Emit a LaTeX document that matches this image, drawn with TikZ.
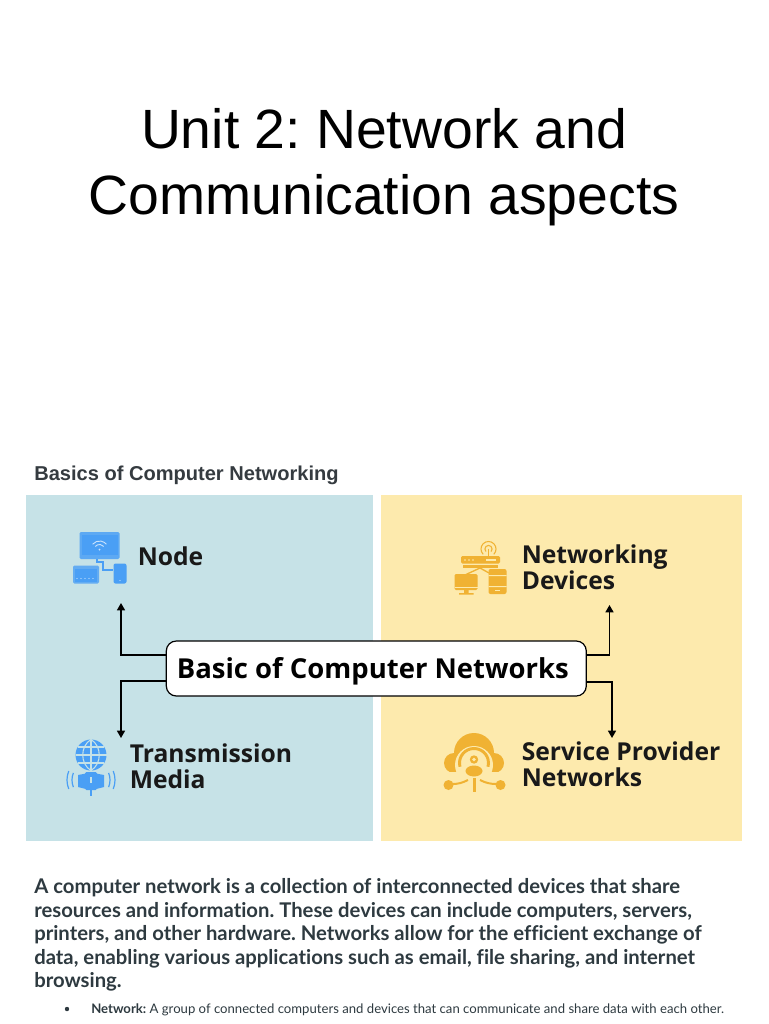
\documentclass[tikz,border=0pt]{standalone}
\usepackage{fontspec}
\setmainfont{Liberation Sans}
\newfontfamily\diagfont{Open Sans}
\newfontfamily\bodyfont[Ligatures=NoCommon]{Lato}
\usetikzlibrary{arrows.meta}
\definecolor{panelblue}{HTML}{C6E2E7}
\definecolor{panelyellow}{HTML}{FDEAAD}
\definecolor{iconblue}{HTML}{4A9FF5}
\definecolor{iconorange}{HTML}{F0B233}
\definecolor{bodyink}{HTML}{2E3A40}
\definecolor{headink}{HTML}{353B40}
\newcommand{\pxfont}[2]{\fontsize{#1}{#2}\selectfont}
\frenchspacing
\tikzset{
  x=0.75pt,y=-0.75pt,
  titletext/.style={anchor=base,inner sep=0pt,font=\pxfont{41.5}{50}},
  labeltext/.style={anchor=base west,inner sep=0pt,align=left,text=black!90,font=\diagfont\bfseries\pxfont{18.5}{19.5}},
  bodyline/.style={anchor=base west,inner sep=0pt,text=bodyink,font=\bodyfont\bfseries\pxfont{15.2}{17}},
  link/.style={draw=black,line width=1.1pt,-{Triangle[length=5.5pt,width=6pt]}},
}
\begin{document}
\begin{tikzpicture}
\useasboundingbox (0,0) rectangle (768,1024);
\fill[white] (0,0) rectangle (768,1024);
% title
\node[titletext] (t1) at (384,148) {Unit 2: Network and};
\node[titletext] (t2) at (384,214) {Communication aspects};
\node[anchor=base west,inner sep=0pt,text=headink,font=\bfseries\pxfont{15.05}{18}] (head) at (34,480) {Basics of Computer Networking};
% panels
\fill[panelblue] (26,495) rectangle (373,841);
\fill[panelyellow] (381,495) rectangle (742,841);
% centre
\node[draw=black,line width=0.9pt,fill=white,rounded corners=7.5pt,minimum width=315pt,minimum height=41.25pt,inner sep=0pt,anchor=center,font=\diagfont\bfseries\pxfont{20.6}{25}] (core) at (376.3,668.5) {\raisebox{-7.5pt}[0pt][0pt]{Basic of Computer Networks}\hspace*{5.2pt}};
% connector ends
\coordinate (nodeEnd) at (121,603);
\coordinate (mediaEnd) at (121,738);
\coordinate (devEnd) at (609.5,605);
\coordinate (ispEnd) at (612,738);
\draw[link] (core.west |- 0,655) -| (nodeEnd);
\draw[link] (core.west |- 0,681) -| (mediaEnd);
\draw[link] (core.east |- 0,655) -| (devEnd);
\draw[link] (core.east |- 0,682) -| (ispEnd);
% labels (base of a two-line node is its last line)
\node[labeltext] (lnode) at (137.5,565) {Node};
\node[labeltext] (lmedia) at (129.5,788) {Transmission\\[0pt]Media};
\node[labeltext] (ldev) at (521.5,589) {Networking\\[0pt]Devices};
\node[labeltext] (lisp) at (521.5,786) {Service Provider\\[0pt]Networks};
% node icon
\begin{scope}
\fill[iconblue!85!panelblue,rounded corners=1pt] (79.5,532) rectangle (119.5,559);
\fill[iconblue] (81.5,534.5) rectangle (117.5,555);
\foreach \r in {9,5.5} \draw[white!70!iconblue,line width=.7pt] (99.5,550) ++(-140:\r) arc[start angle=-140,end angle=-40,radius=\r];
\fill[white!70!iconblue] (99.5,549.5) circle (1);
\draw[iconblue,line width=1.5pt] (97,559) -- (97,562) -- (103,562) -- (103,570) -- (113,570);
\fill[iconblue!80!panelblue,rounded corners=1pt] (73,565.5) rectangle (99,583.5);
\fill[iconblue] (75,568.5) rectangle (97,581.5);
\foreach \q in {77,81,85,89,93} \fill[white!70!iconblue] (\q,578.5) circle (.7);
\fill[iconblue,rounded corners=1.5pt] (113.5,563.5) rectangle (126.5,583.5);
\fill[white!70!iconblue] (120,580.5) circle (.6);
\end{scope}
% transmission icon
\begin{scope}
\fill[iconblue] (91,755) circle (15.5);
\begin{scope}[draw=panelblue,line width=.8pt]
\draw (75.5,755) -- (106.5,755) (78,747) -- (104,747) (78,763) -- (104,763) (91,739.5) -- (91,770.5);
\draw (91,739.5) .. controls (80,746) and (80,764) .. (91,770.5);
\draw (91,739.5) .. controls (102,746) and (102,764) .. (91,770.5);
\end{scope}
\fill[iconblue] (78,775) -- (86,773.5) -- (86,789) -- (78,787) -- cycle;
\fill[iconblue] (104,775) -- (96,773.5) -- (96,789) -- (104,787) -- cycle;
\fill[iconblue,rounded corners=1pt] (85,772) rectangle (97,790);
\fill[iconblue] (89.8,790) rectangle (92.2,796);
\fill[panelblue] (89.8,777) rectangle (92.2,783);
\foreach \r in {19,24} {
  \draw[iconblue,line width=.9pt] (91,780) ++(158:\r) arc[start angle=158,end angle=202,radius=\r];
  \draw[iconblue,line width=.9pt] (91,780) ++(-22:\r) arc[start angle=-22,end angle=22,radius=\r];
}
\end{scope}
% networking devices icon
\begin{scope}
\draw[iconorange,line width=.8pt] (488.5,549) ++(-225:7.5) arc[start angle=-225,end angle=45,radius=7.5];
\draw[iconorange,line width=.8pt] (488.5,549) ++(-225:3.6) arc[start angle=-225,end angle=45,radius=3.6];
\fill[iconorange] (487.6,549) rectangle (489.4,556);
\fill[iconorange,rounded corners=1pt] (461,556) rectangle (500,563.5);
\foreach \q in {465,469,473} \fill[panelyellow] (\q,560) circle (.8);
\fill[panelyellow] (486,559) rectangle (496,560.5);
\fill[iconorange] (463,565) rectangle (498,568);
\draw[iconorange,line width=1pt] (480,568) -- (466,574.5) (480,568) -- (489,573);
\fill[iconorange,rounded corners=1pt] (454.5,574) rectangle (477.5,590);
\fill[panelyellow] (454.5,586.5) rectangle (477.5,587.3);
\fill[iconorange] (464,590) rectangle (468.5,593) (459,593) rectangle (473.5,594.5);
\fill[iconorange,rounded corners=1.5pt] (488.5,569) rectangle (506.5,594);
\fill[panelyellow] (488.5,575) rectangle (506.5,576) (488.5,586) rectangle (506.5,587);
\fill[panelyellow] (495,589.5) rectangle (500,590.5);
\end{scope}
% service provider icon
\begin{scope}
\fill[iconorange] (474,753) circle (20);
\fill[iconorange] (454,763) circle (10);
\fill[iconorange] (494,763) circle (10);
\fill[panelyellow] (474,765) circle (19);
\fill[panelyellow] (440,772) rectangle (508,780);
\draw[iconorange,line width=2.2pt] (474,763) ++(-195:14.5) arc[start angle=-195,end angle=15,radius=14.5];
\fill[iconorange] (474,759.5) circle (4.2);
\fill[panelyellow] (474,759.5) circle (1.8);
\fill[iconorange] (474,771) ellipse (8.5 and 5.5);
\fill[iconorange] (448.5,785) circle (5);
\fill[iconorange] (500.5,785) circle (5);
\fill[iconorange] (472.5,778) rectangle (475.5,792);
\draw[iconorange,line width=1.5pt] (452,784) .. controls (458,784) and (462,783) .. (468,780);
\draw[iconorange,line width=1.5pt] (497,784) .. controls (490,784) and (486,783) .. (480,780);
\end{scope}
% body text
\node[bodyline] (b1) at (34,893.5) {A computer network is a collection of interconnected devices that share};
\node[bodyline] (b2) at (34,917) {resources and information. These devices can include computers, servers,};
\node[bodyline] (b3) at (34,940.5) {printers, and other hardware. Networks allow for the efficient exchange of};
\node[bodyline] (b4) at (34,964) {data, enabling various applications such as email, file sharing, and internet};
\node[bodyline] (b5) at (34,987) {browsing.};
\fill[bodyink] (67,1009) circle (2.2);
\node[anchor=base west,inner sep=0pt,text=bodyink,font=\bodyfont\pxfont{9.85}{12}] (b6) at (91,1013) {\textbf{Network:} A group of connected computers and devices that can communicate and share data with each other.};
\end{tikzpicture}
\end{document}
